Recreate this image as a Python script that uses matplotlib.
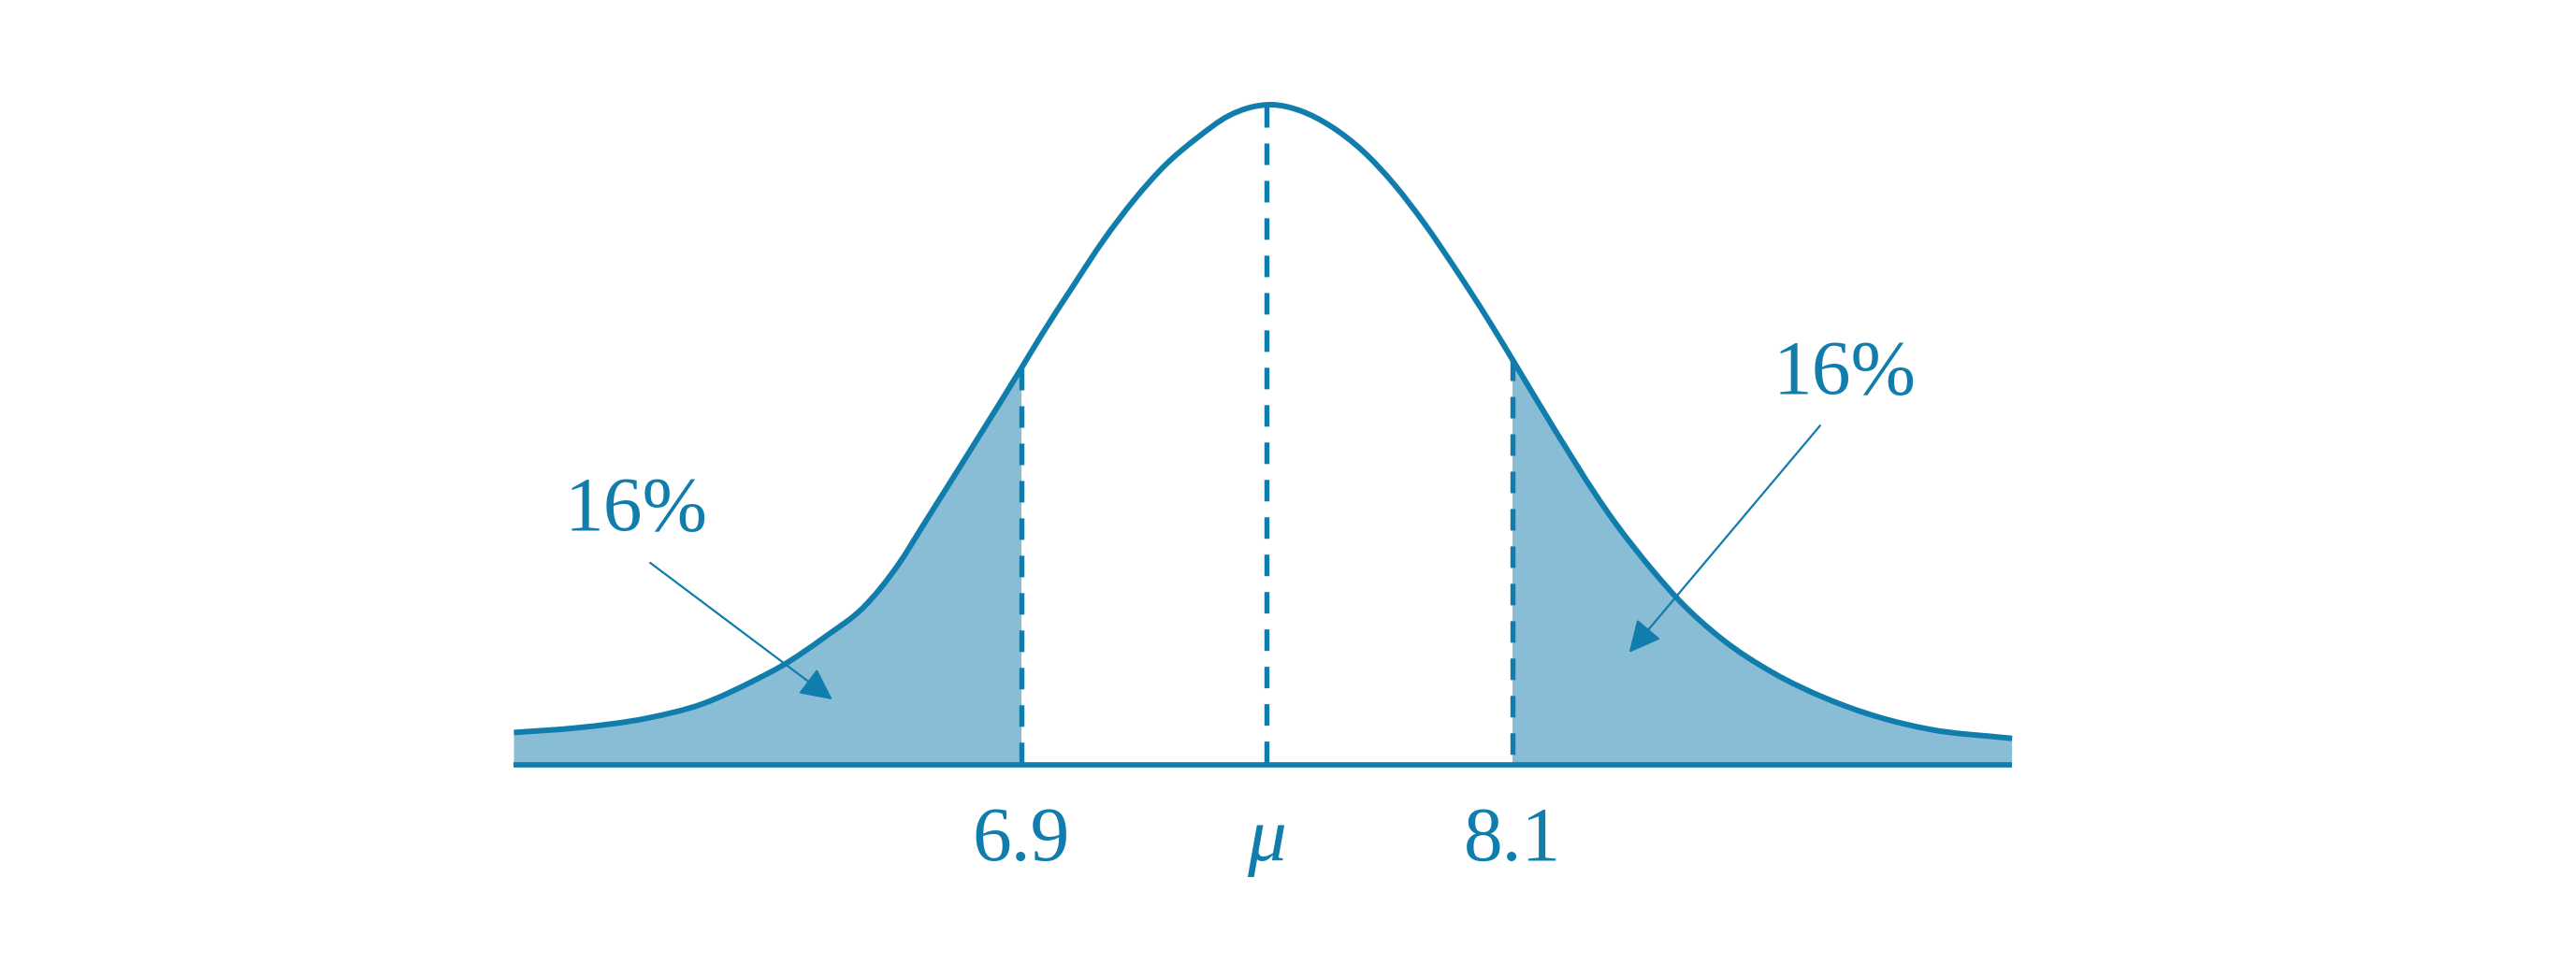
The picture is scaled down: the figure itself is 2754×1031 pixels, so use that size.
import numpy as np
import matplotlib.pyplot as plt
from matplotlib.path import Path
from matplotlib.patches import PathPatch

# curve: x value, relative height (peak = 1)
x_vals = [5.660, 5.813, 5.988, 6.119, 6.251, 6.312, 6.425, 6.513, 6.601, 6.662,
          6.804, 6.900, 6.949, 7.025, 7.101, 7.177, 7.254, 7.330, 7.406, 7.460,
          7.510, 7.581, 7.657, 7.734, 7.810, 7.886, 7.962, 8.038, 8.100, 8.159,
          8.353, 8.442, 8.509, 8.611, 8.738, 8.865, 8.991, 9.118, 9.321]
heights = [0.049, 0.056, 0.071, 0.092, 0.129, 0.149, 0.196, 0.238, 0.305, 0.365,
           0.505, 0.601, 0.651, 0.724, 0.795, 0.857, 0.910, 0.950, 0.983, 0.996,
           1.000, 0.991, 0.967, 0.930, 0.880, 0.819, 0.750, 0.677, 0.614, 0.553,
           0.365, 0.295, 0.248, 0.191, 0.139, 0.101, 0.073, 0.054, 0.040]

mu = 7.5
lower = 6.9
upper = 8.1
tick_pos = [lower, mu, upper]
tick_labels = ['6.9', 'μ', '8.1']
tail_label = '16%'

line_col = '#107DAC'
fill_col = '#89BDD6'

x = np.array(x_vals)
h = np.array(heights)
n = len(x)

# cubic hermite through the points (tangents from neighbouring secants),
# written as bezier segments so matplotlib draws it smooth
dx = np.diff(x)
sec = np.diff(h) / dx
m = np.empty(n)
m[0], m[-1] = sec[0], sec[-1]
m[1:-1] = (sec[:-1] * dx[1:] + sec[1:] * dx[:-1]) / (dx[:-1] + dx[1:])


def curve_verts(i0, i1):
    verts = [(x[i0], h[i0])]
    for i in range(i0, i1):
        d = dx[i] / 3
        verts += [(x[i] + d, h[i] + m[i] * d),
                  (x[i + 1] - d, h[i + 1] - m[i + 1] * d),
                  (x[i + 1], h[i + 1])]
    codes = [Path.MOVETO] + [Path.CURVE4] * (3 * (i1 - i0))
    return verts, codes


fig = plt.figure(figsize=(27.54, 10.31), dpi=100)
ax = fig.add_axes([0, 0, 1, 1])
ax.set_xlim(4.404, 10.699)
ax.set_ylim(-0.3017, 1.1586)
ax.axis('off')

# shaded tails
i_low = int(np.where(x == lower)[0][0])
i_up = int(np.where(x == upper)[0][0])
for i0, i1 in [(0, i_low), (i_up, n - 1)]:
    v, c = curve_verts(i0, i1)
    v = v + [(x[i1], 0), (x[i0], 0), (x[i0], 0)]
    c = c + [Path.LINETO, Path.LINETO, Path.CLOSEPOLY]
    ax.add_patch(PathPatch(Path(v, c), facecolor=fill_col, lw=0, zorder=1))

# dashed lines from curve down to the axis
for xv in tick_pos:
    top = np.interp(xv, x, h)
    ax.plot([xv, xv], [top, 0], color=line_col, lw=3.9,
            linestyle=(0, (4.25, 3.13)), dash_capstyle='butt', zorder=2)

v, c = curve_verts(0, n - 1)
ax.add_patch(PathPatch(Path(v, c), facecolor='none', edgecolor=line_col,
                       lw=4.3, capstyle='butt', joinstyle='round', zorder=3))
ax.plot([x[0], x[-1]], [0, 0], color=line_col, lw=4.1,
        solid_capstyle='butt', zorder=4)

txt = dict(color=line_col, fontsize=60, family='Liberation Serif')
for xv, lab in zip(tick_pos, tick_labels):
    style = 'italic' if lab == 'μ' else 'normal'
    ax.text(xv, -0.1445, lab, ha='center', va='baseline', style=style, **txt)

ax.text(5.958, 0.356, tail_label, ha='center', va='baseline', **txt)
ax.text(8.911, 0.5616, tail_label, ha='center', va='baseline', **txt)

arrow = dict(arrowstyle='-|>,head_length=20.9,head_width=10.3', color=line_col,
             lw=1.6, shrinkA=0, shrinkB=0, mutation_scale=1)
ax.annotate('', xy=(6.438, 0.099), xytext=(5.993, 0.306), arrowprops=arrow)
ax.annotate('', xy=(8.385, 0.170), xytext=(8.852, 0.514), arrowprops=arrow)

plt.savefig('out.png', dpi=100)
